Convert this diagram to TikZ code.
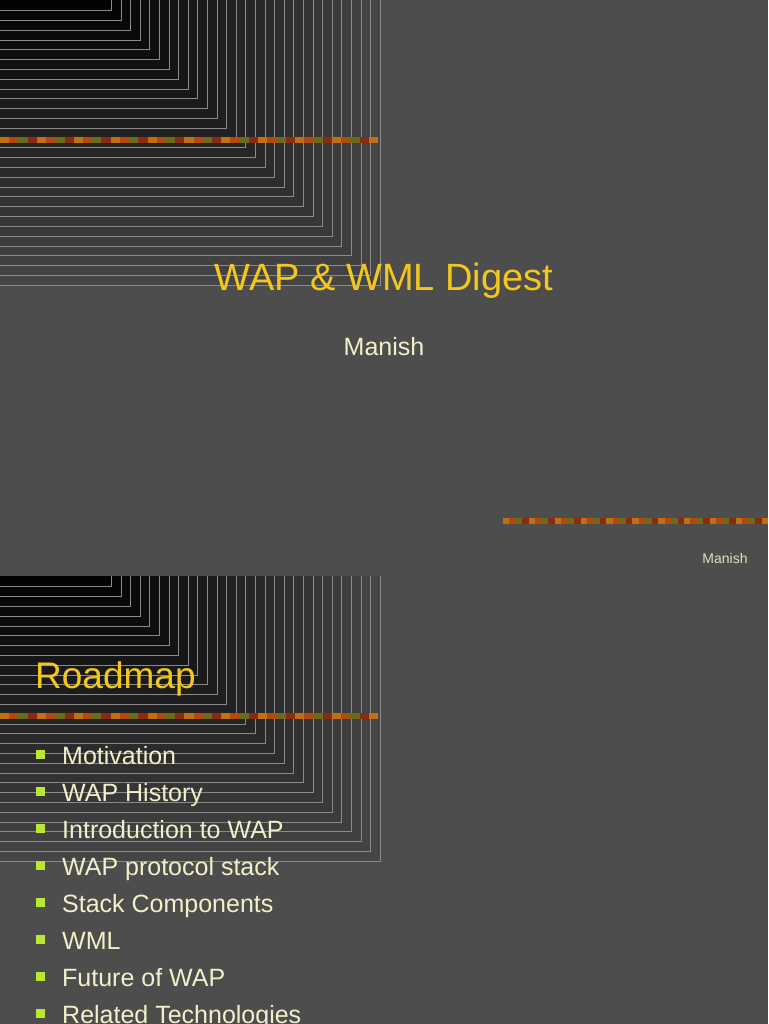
\documentclass[tikz,border=0pt]{standalone}
\usepackage{fontspec}
\setmainfont{Liberation Sans}
\definecolor{bg}{HTML}{4D4D4D}
\definecolor{ttl}{HTML}{F2C81E}
\definecolor{txt}{HTML}{F2F0C8}
\definecolor{bul}{HTML}{B8E830}
\definecolor{ln}{HTML}{8A8A8A}
\definecolor{ba}{HTML}{C07010}
\definecolor{bb}{HTML}{8A2A10}
\definecolor{bc}{HTML}{6A6A18}
\definecolor{bd}{HTML}{B04A10}
\tikzset{
  corner/.style={draw=ln,line width=0.6pt},
  ttltext/.style={text=ttl,inner sep=0pt,anchor=base},
  bodytext/.style={text=txt,inner sep=0pt,anchor=base west,font=\fontsize{25}{28}\selectfont},
  bulsq/.style={fill=bul,draw=none}
}
\newcommand{\cornerpattern}[1]{%
  \foreach \i in {0,...,28}{
    \pgfmathsetmacro{\xx}{380-\i*9.6}
    \pgfmathsetmacro{\yy}{#1+285-\i*9.8}
    \pgfmathsetmacro{\dk}{90-\i*3.1}
    \fill[bg!\dk!black] (0,#1) rectangle (\xx,\yy);
    \draw[corner] (0,\yy) -- (\xx,\yy) -- (\xx,#1);
  }}
\newcommand{\mottledbar}[3]{%
  \foreach \k in {0,...,40}{
    \pgfmathsetmacro{\xs}{#1+\k*(#2-#1)/41}
    \pgfmathsetmacro{\xe}{#1+(\k+1)*(#2-#1)/41}
    \pgfmathtruncatemacro{\m}{mod(\k*7,4)}
    \ifcase\m\def\cc{ba}\or\def\cc{bb}\or\def\cc{bc}\else\def\cc{bd}\fi
    \fill[\cc] (\xs,#3) rectangle (\xe,#3+6);
  }}
\begin{document}
\begin{tikzpicture}[x=1pt,y=-1pt]
\useasboundingbox (0,0) rectangle (768,1024);
\fill[bg] (0,0) rectangle (768,1024);
% slide 1
\cornerpattern{0}
\mottledbar{0}{378}{137}
\mottledbar{503}{768}{518}
\node[ttltext,font=\fontsize{38}{42}\selectfont] (title) at (384,290) {WAP \& WML Digest};
\node[text=txt,inner sep=0pt,anchor=base,font=\fontsize{25}{28}\selectfont] (author) at (384,355) {Manish};
\node[text=txt!85!gray,inner sep=0pt,anchor=base,font=\fontsize{14}{16}\selectfont] (footer) at (725,563) {Manish};
% slide 2
\begin{scope}
\clip (0,576) rectangle (768,1024);
\cornerpattern{576}
\end{scope}
\mottledbar{0}{378}{713}
\node[ttltext,anchor=base west,font=\fontsize{37}{40}\selectfont] (roadmap) at (35,688) {Roadmap};
\foreach \t [count=\n from 0] in {Motivation,WAP History,Introduction to WAP,WAP protocol stack,Stack Components,WML,Future of WAP,Related Technologies}{
  \pgfmathsetmacro{\by}{764+\n*37}
  \fill[bulsq] (36,\by-14) rectangle (45,\by-5);
  \node[bodytext] (item\n) at (62,\by) {\t};
}
\end{tikzpicture}
\end{document}
